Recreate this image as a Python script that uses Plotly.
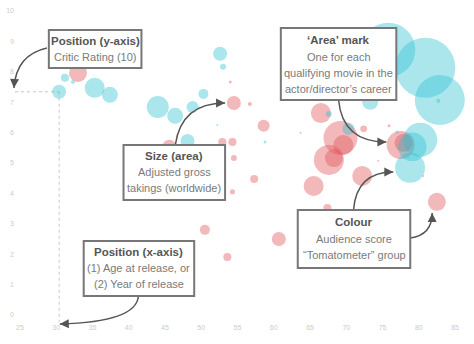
import math
import plotly.graph_objects as go

# ---------------- data ----------------
# Audience-score group shown in blue
blue_age = [30.4, 31.2, 32.3, 35.3, 37.4, 44.0, 46.4, 48.8, 50.3, 48.1, 52.6, 53.0, 52.2,
            58.8, 67.6, 73.3, 75.8, 80.9, 82.9, 82.7, 70.3, 77.0, 80.2, 79.1, 78.8]
blue_rating = [7.34, 7.80, 7.66, 7.47, 7.24, 6.84, 6.55, 6.84, 7.27, 5.72, 8.59, 8.16, 6.25,
               5.69, 6.61, 7.01, 8.72, 8.13, 7.07, 7.04, 6.12, 6.02, 5.76, 5.53, 4.84]
blue_gross = [106, 35, 9, 216, 138, 261, 138, 78, 54, 106, 106, 19, 2,
              5, 19, 138, 1575, 1944, 1350, 9, 78, 5, 624, 440, 486]

# Audience-score group shown in red
red_age = [33.0, 54.0, 54.5, 56.7, 58.6, 52.9, 54.3, 54.5, 57.3, 54.3, 50.5, 60.7, 53.6, 45.6,
           66.5, 69.2, 69.6, 72.4, 75.9, 63.7, 67.6, 68.3, 72.2, 74.4, 65.5, 67.4, 82.5, 77.5,
           77.9, 80.6]
red_rating = [7.96, 7.66, 6.97, 6.94, 6.22, 5.69, 5.69, 5.16, 4.47, 4.05, 2.80, 2.50, 1.91, 5.53,
              6.64, 5.82, 5.59, 6.12, 6.22, 5.99, 5.10, 5.16, 4.57, 5.07, 4.24, 3.52, 3.72, 5.59,
              5.66, 4.57]
red_gross = [175, 5, 106, 9, 78, 35, 35, 19, 35, 14, 54, 106, 35, 106,
             216, 624, 216, 26, 5, 2, 486, 175, 216, 2, 216, 35, 175, 423,
             175, 2]

x_ticks = [25, 30, 35, 40, 45, 50, 55, 60, 65, 70, 75, 80, 85]
y_ticks = [0, 1, 2, 3, 4, 5, 6, 7, 8, 9, 10]

FONT = "Liberation Sans, Arial, sans-serif"
RED = "rgba(225,85,90,0.6)"
BLUE = "rgba(40,190,210,0.56)"
SIZEREF = 1.08

# plot area in pixels
W, H = 474, 344
ML, MR, MT, MB = 13, 6, 6, 22
X0, X1 = 24.31, 86.79
Y0, Y1 = -0.23, 10.16


def sort_desc(xs, ys, ss):
    idx = sorted(range(len(ss)), key=lambda i: -ss[i])
    return [xs[i] for i in idx], [ys[i] for i in idx], [ss[i] for i in idx]


fig = go.Figure()
for xs, ys, ss, col in [(red_age, red_rating, red_gross, RED),
                        (blue_age, blue_rating, blue_gross, BLUE)]:
    sx, sy, ssz = sort_desc(xs, ys, ss)
    fig.add_trace(go.Scatter(
        x=sx, y=sy, mode="markers", cliponaxis=False, hoverinfo="skip",
        marker=dict(size=ssz, sizemode="area", sizeref=SIZEREF, color=col,
                    line=dict(width=0)),
        showlegend=False))

# dotted guide lines to highlighted point
hx, hy = blue_age[0], blue_rating[0]
guide = dict(color="#c8c8c8", width=1, dash="dot")
fig.add_shape(type="line", xref="x", yref="y", x0=X0, x1=hx, y0=hy, y1=hy, line=guide, layer="below")
fig.add_shape(type="line", xref="x", yref="y", x0=hx, x1=hx, y0=hy, y1=Y0, line=guide, layer="below")

PW = W - ML - MR
PH = H - MT - MB


def px(x):
    return (x - ML) / PW


def py(y):
    return (H - MB - y) / PH


ARROW = "#555555"


def curve(p0, c, p1):
    path = "M {},{} Q {},{} {},{}".format(px(p0[0]), py(p0[1]), px(c[0]), py(c[1]),
                                          px(p1[0]), py(p1[1]))
    fig.add_shape(type="path", xref="paper", yref="paper", path=path,
                  line=dict(color=ARROW, width=1.5), layer="above")
    dx, dy = c[0] - p1[0], c[1] - p1[1]
    n = math.hypot(dx, dy)
    L = 6
    fig.add_annotation(xref="paper", yref="paper", x=px(p1[0]), y=py(p1[1]),
                       ax=dx / n * L, ay=dy / n * L, axref="pixel", ayref="pixel",
                       text="", showarrow=True, arrowhead=2, arrowsize=1.2,
                       arrowwidth=1.5, arrowcolor=ARROW, standoff=0)


curve((45, 48), (14, 55), (12, 88))
curve((174, 145), (180, 103), (224, 103))
curve((338, 100), (342, 142), (386, 142))
curve((353, 210), (356, 172), (393, 172))
curve((410, 238), (432, 235), (432, 213))
curve((137, 296), (135, 322), (58, 324))


def box(x0, y0, x1, y1, title, lines, ys):
    fig.add_shape(type="rect", xref="paper", yref="paper",
                  x0=px(x0), x1=px(x1), y0=py(y0), y1=py(y1),
                  fillcolor="white", line=dict(color="#777777", width=2), layer="above")
    cx = px((x0 + x1) / 2)
    fig.add_annotation(xref="paper", yref="paper", x=cx, y=py(ys[0]),
                       xanchor="center", yanchor="middle", showarrow=False,
                       text="<b>{}</b>".format(title),
                       font=dict(family=FONT, size=11.5, color="#555555"))
    for ln, yy in zip(lines, ys[1:]):
        fig.add_annotation(xref="paper", yref="paper", x=cx, y=py(yy),
                           xanchor="center", yanchor="middle", showarrow=False,
                           text=ln, font=dict(family=FONT, size=11, color="#7a7a7a"))


box(47, 30, 140, 68, "Position (y-axis)", ["Critic Rating (10)"], [41, 57])
box(122, 145, 224, 200, "Size (area)", ["Adjusted gross", "takings (worldwide)"], [156, 172, 188])
box(280, 28, 396, 100, "\u2018Area\u2019 mark", ["One for each", "qualifying movie in the",
                                                "actor/director\u2019s career"], [40, 57, 73, 89])
box(297, 210, 410, 268, "Colour", ["Audience score", "\u201cTomatometer\u201d group"], [222, 239, 255])
box(82, 241, 193, 296, "Position (x-axis)", ["(1) Age at release, or", "(2) Year of release"],
    [252, 268, 284])

axis_common = dict(showgrid=False, zeroline=False, showline=False, ticks="",
                   tickfont=dict(family=FONT, size=7, color="#cccccc"))
fig.update_layout(
    width=W, height=H, margin=dict(l=ML, r=MR, t=MT, b=MB),
    paper_bgcolor="white", plot_bgcolor="white",
    xaxis=dict(range=[X0, X1], tickvals=x_ticks, **axis_common),
    yaxis=dict(range=[Y0, Y1], tickvals=y_ticks, **axis_common),
    font=dict(family=FONT),
)

fig.write_html("out.html")
